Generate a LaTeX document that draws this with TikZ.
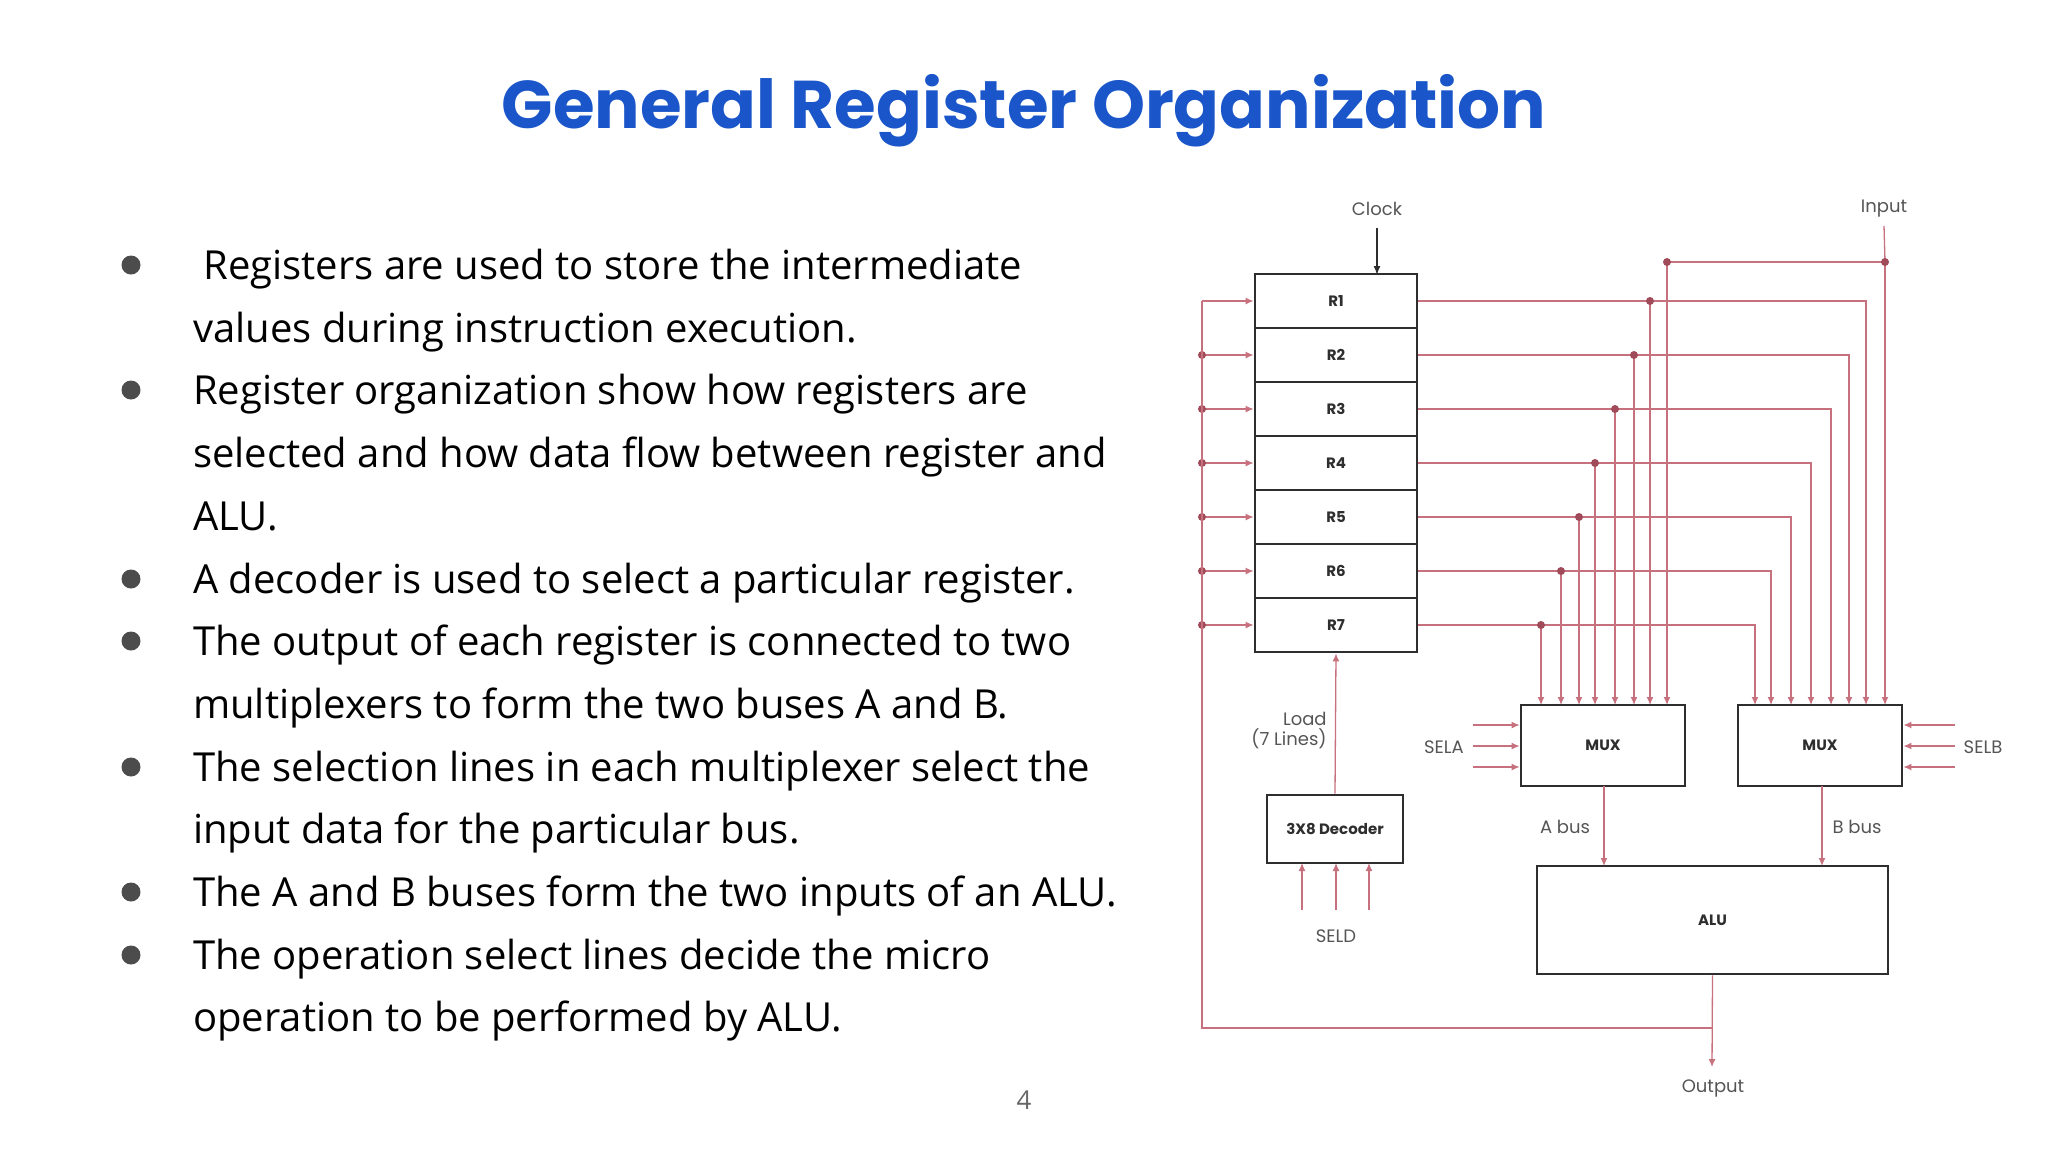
\documentclass[tikz,border=0pt]{standalone}
\usepackage{fontspec}
\setmainfont{Open Sans}
\newfontfamily\pop{Poppins}
\usetikzlibrary{arrows.meta}
\definecolor{titleblue}{HTML}{1A56C9}
\definecolor{wirec}{HTML}{C7707E}
\definecolor{dotc}{HTML}{A04A5A}
\definecolor{boxc}{HTML}{2E2E2E}
\definecolor{lab}{HTML}{555555}
\begin{document}
\begin{tikzpicture}[x=1pt,y=-1pt,
  box/.style={draw=boxc,line width=2.8pt,fill=white,inner sep=0pt,font=\pop\bfseries\fontsize{15}{17}\selectfont,text=boxc},
  reg/.style={box,minimum width=162pt,minimum height=54pt},
  wire/.style={draw=wirec,line width=1.3pt},
  tip/.style={-{Latex[length=8pt,width=7pt]}},
  dot/.style={fill=dotc},
  lbl/.style={font=\pop\fontsize{18}{20}\selectfont,text=lab,inner sep=0pt},
  txt/.style={anchor=base west,inner sep=0pt,font=\fontsize{40}{48}\selectfont,text=black},
  bul/.style={circle,fill=black!70,inner sep=0pt,minimum size=19pt}]
\useasboundingbox (0,0) rectangle (2048,1152);
% title
\node[font=\pop\bfseries\fontsize{67.5}{72}\selectfont,text=titleblue] (title) at (1024,111) {General Register Organization};
% bullet text
\foreach \y/\t [count=\k] in {
 265/{\ Registers are used to store the intermediate},
 328/{values during instruction execution.},
 390/{Register organization show how registers are},
 453/{selected and how data flow between register and},
 516/{ALU.},
 579/{A decoder is used to select a particular register.},
 641/{The output of each register is connected to two},
 704/{multiplexers to form the two buses A and B.},
 767/{The selection lines in each multiplexer select the},
 829/{input data for the particular bus.},
 892/{The A and B buses form the two inputs of an ALU.},
 955/{The operation select lines decide the micro},
 1017/{operation to be performed by ALU.}}
 {\node[txt] (line\k) at (193,\y+14) {\t};}
\foreach \y [count=\k] in {265,390,579,641,767,892,955}
 {\node[bul] (b\k) at (131,\y) {};}
\node[font=\fontsize{26}{30}\selectfont,text=black!60] (pg) at (1024,1100) {4};
% registers
\foreach \i/\y in {1/301,2/355,3/409,4/463,5/517,6/571,7/625}
 {\node[reg] (r\i) at (1336,\y) {R\i};}
% mux, alu, decoder
\node[box,minimum width=164pt,minimum height=81pt] (muxA) at (1603,745.5) {MUX};
\node[box,minimum width=164pt,minimum height=81pt] (muxB) at (1820,745.5) {MUX};
\node[box,minimum width=351pt,minimum height=108pt] (alu) at (1712.5,920) {ALU};
\node[box,minimum width=136pt,minimum height=68pt] (dec) at (1335,829) {3X8 Decoder};
% clock
\node[lbl] (clk) at (1377,209) {Clock};
\draw[draw=boxc,line width=1.5pt,-{Latex[length=9pt,width=7pt]}] (clk.south)++(0,12) -- (1377,275);
% input
\node[lbl] (inp) at (1884,209) {Input};
\coordinate (indot) at (1885,262);
\draw[wire] (inp.south)++(0,8) -- (indot);
\draw[wire,tip] (indot) -- (1885,705);
\draw[wire] (indot) -- (1667,262);
\draw[wire,tip] (1667,262) -- (1667,705);
\fill[dot] (indot) circle (4pt);
\fill[dot] (1667,262) circle (4pt);
% register outputs
\foreach \i/\y/\ax/\bx in {1/301/1650/1866,2/355/1634/1849,3/409/1615/1831,4/463/1595/1811,5/517/1579/1791,6/571/1561/1771,7/625/1541/1755}{
 \draw[wire,tip] (r\i.east) -| (\bx,705);
 \draw[wire,tip] (\ax,\y) -- (\ax,705);
 \fill[dot] (\ax,\y) circle (4pt);
 \draw[wire,tip] (1202,\y) -- (r\i.west);
}
\foreach \y in {355,409,463,517,571,625}{\fill[dot] (1202,\y) circle (4pt);}
% left feedback bus and output
\coordinate (fb) at (1202,1028);
\draw[wire] (1202,301) -- (fb) -- (1712,1028);
\node[lbl] (outl) at (1713,1088) {Output};
\draw[wire,tip] (alu.south) -- (1712,1067);
% buses
\draw[wire,tip] (1604,786) -- (1604,866);
\draw[wire,tip] (1822,786) -- (1822,866);
\node[lbl] (ab) at (1565,827) {A bus};
\node[lbl] (bb) at (1857,827) {B bus};
% SELA / SELB
\node[lbl] (sela) at (1444,747) {SELA};
\node[lbl] (selb) at (1983,747) {SELB};
\foreach \y in {725,746,767}{
 \draw[wire,tip] (1473,\y) -- (muxA.west |- 0,\y);
 \draw[wire,tip] (1955,\y) -- (muxB.east |- 0,\y);
}
% decoder
\draw[wire,tip] (dec.north) -- (r7.south);
\node[lbl,align=right] (load) at (1289,731) {\hspace*{1.2em}Load\\(7 Lines)};
\foreach \x in {1302,1336,1369}{\draw[wire,tip] (\x,910) -- (\x,863);}
\node[lbl] (seld) at (1336,936) {SELD};
\end{tikzpicture}
\end{document}
